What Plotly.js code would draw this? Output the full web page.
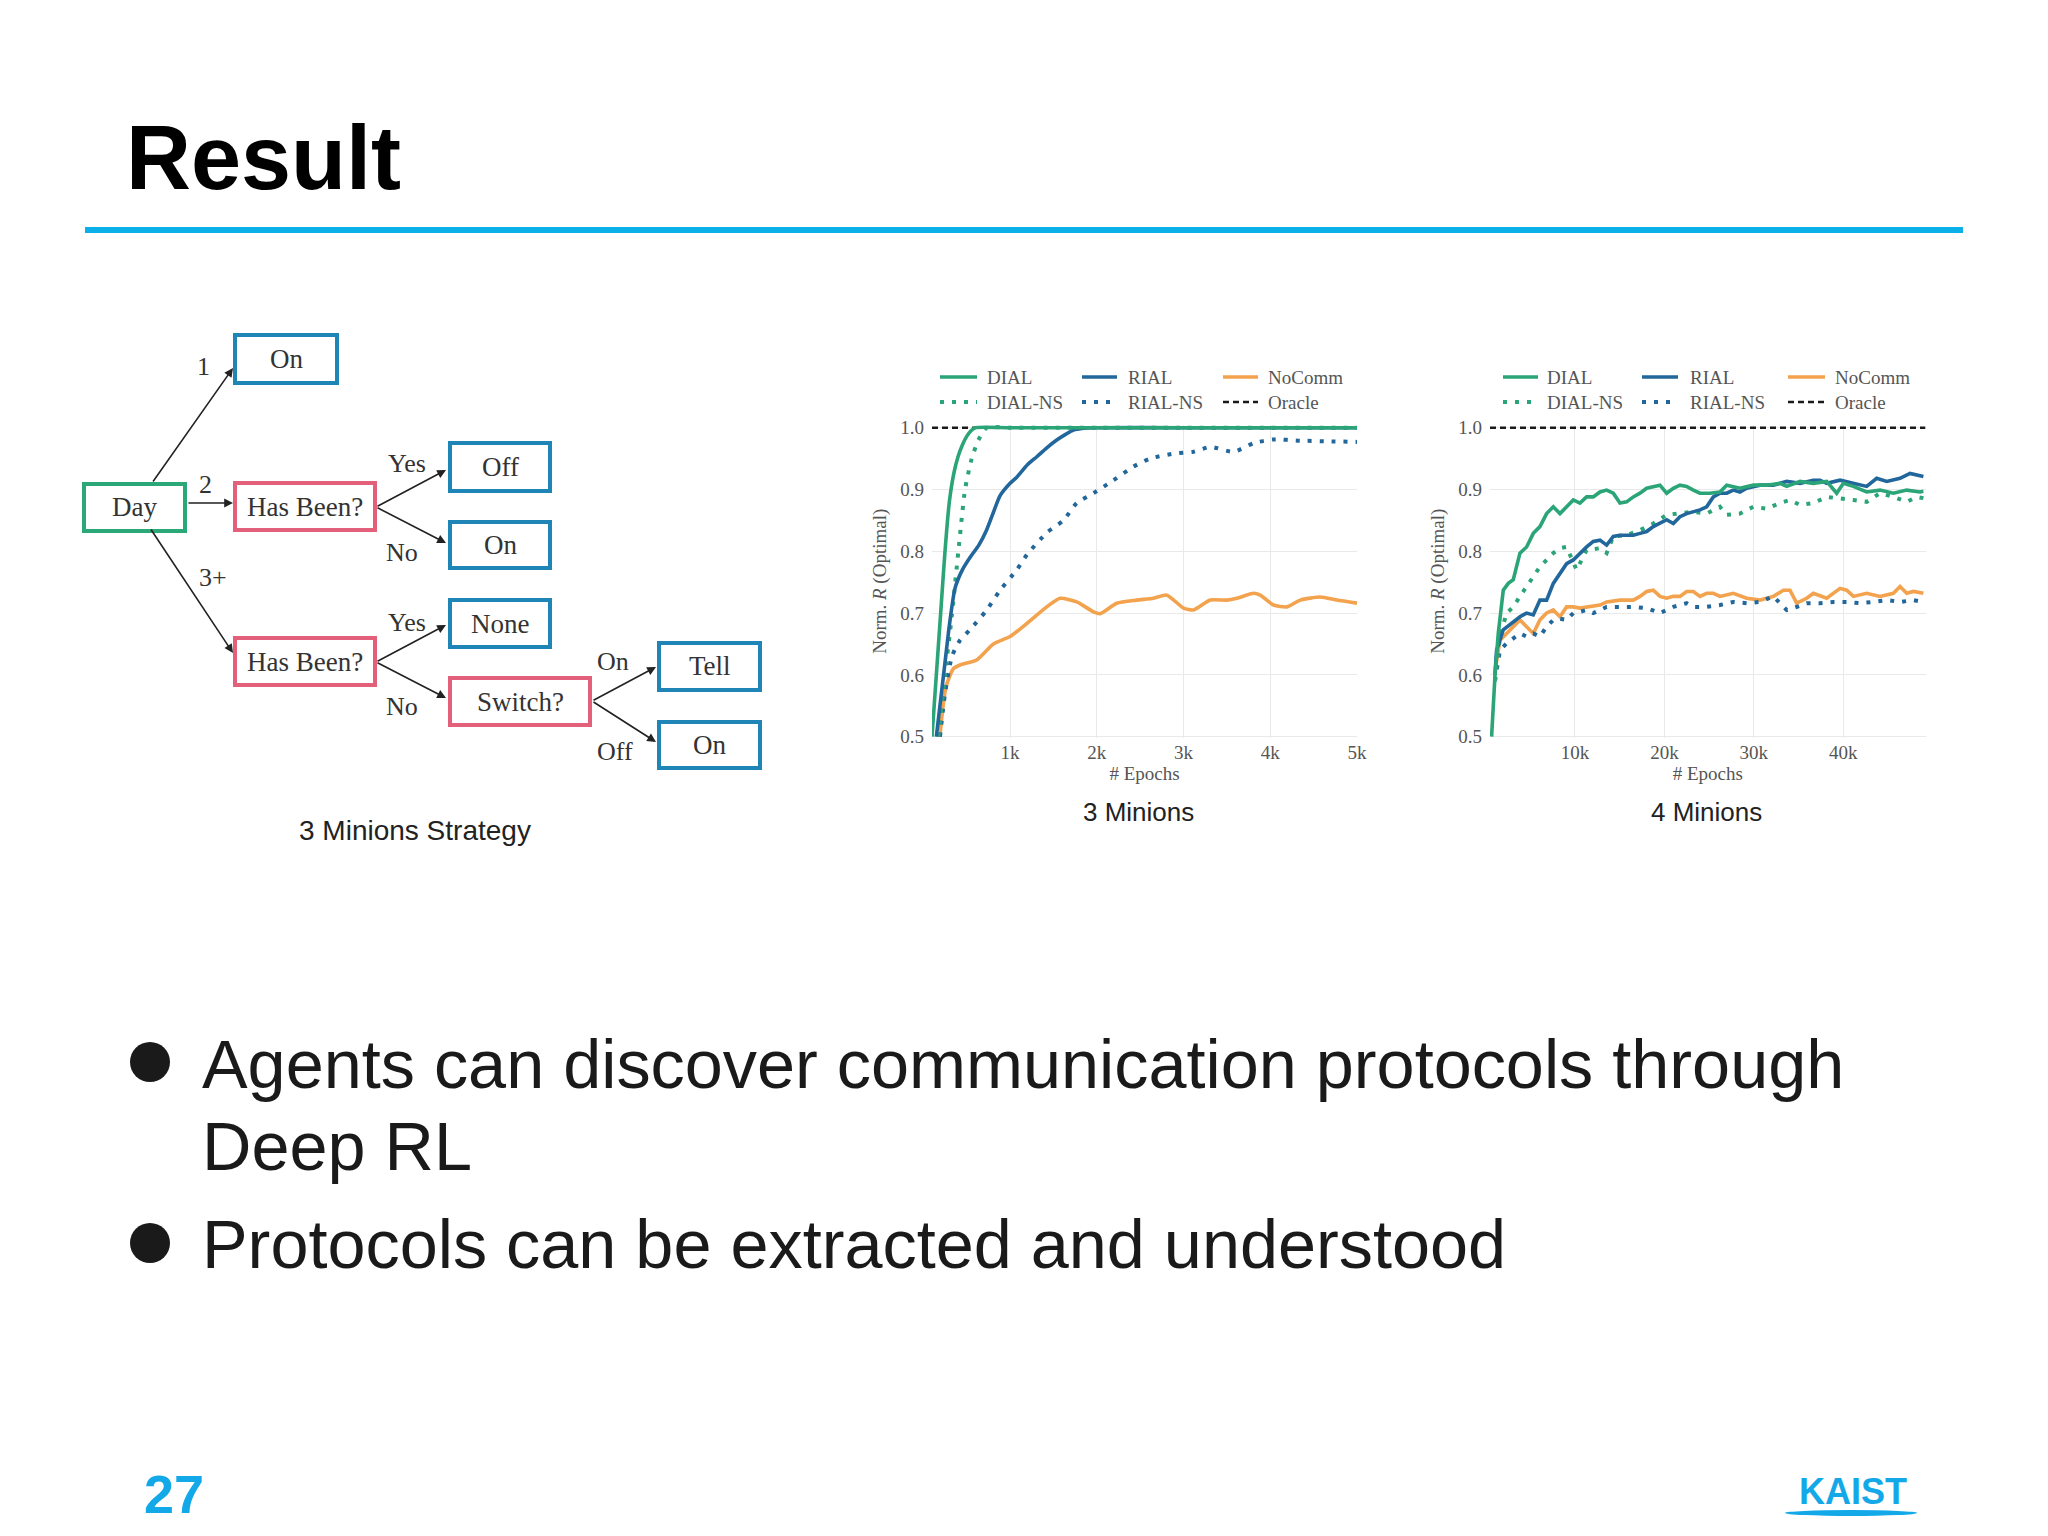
<!DOCTYPE html>
<html><head><meta charset="utf-8">
<script src="https://cdn.plot.ly/plotly-3.0.1.min.js"></script>
<style>html,body{margin:0;padding:0;background:#fff;}#chart{width:2048px;height:1536px;}</style>
</head><body><div id="chart"></div>
<script>
// ---------------- DATA: 3 Minions ----------------
const m3OracleX = [100, 5000];
const m3OracleY = [1.0, 1.0];
const m3DialX = [100,150,200,250,300,350,400,450,500,550,600,1000,2000,3000,4000,5000];
const m3DialY = [0.50,0.60,0.70,0.80,0.88,0.925,0.953,0.972,0.986,0.995,1.0,1.0,1.0,1.0,1.0,1.0];
const m3DialNsX = [173,250,327,404,481,558,635,731,1000,2000,3000,4000,5000];
const m3DialNsY = [0.50,0.60,0.694,0.80,0.90,0.95,0.98,1.0,1.0,1.0,1.0,1.0,1.0];
const m3RialX = [150,250,300,365,450,538,640,731,800,885,1000,1077,1200,1308,1420,1538,1650,1731,1850,1962,3000,4000,5000];
const m3RialY = [0.50,0.62,0.68,0.74,0.77,0.79,0.81,0.835,0.86,0.89,0.91,0.92,0.94,0.953,0.967,0.98,0.99,0.996,0.999,1.0,1.0,1.0,1.0];
const m3RialNsX = [192,250,330,423,538,731,885,1077,1192,1423,1615,1769,1962,2192,2423,2615,2885,3115,3308,3577,3808,4038,4346,4654,5000];
const m3RialNsY = [0.50,0.57,0.63,0.656,0.673,0.705,0.737,0.77,0.794,0.83,0.85,0.878,0.894,0.915,0.937,0.95,0.958,0.961,0.969,0.961,0.975,0.981,0.979,0.978,0.977];
const m3NoCommX = [190,260,346,423,615,808,1000,1192,1423,1577,1769,1962,2038,2231,2462,2654,2808,3000,3115,3308,3500,3615,3808,3885,4038,4192,4346,4577,4769,5000];
const m3NoCommY = [0.50,0.58,0.61,0.616,0.624,0.65,0.662,0.683,0.71,0.724,0.718,0.702,0.699,0.716,0.721,0.724,0.729,0.708,0.705,0.721,0.721,0.724,0.732,0.729,0.713,0.71,0.721,0.726,0.721,0.716];

// ---------------- DATA: 4 Minions ----------------
const m4OracleX = [500, 49200];
const m4OracleY = [1.0, 1.0];
const m4DialX = [679,1051,1424,1984,2543,3103,3848,4594,5340,6085,6831,7577,8322,9068,9814,10559,11305,12051,12796,13542,14288,15034,15779,16525,17271,18016,18762,19508,20254,20999,21745,22491,23236,23982,25101,26219,26965,27711,28456,29948,31439,32931,33676,35168,36659,38150,39269,40015,41133,42625,44116,45608,47099,48591,48964];
const m4DialY = [0.5,0.597,0.667,0.737,0.748,0.754,0.797,0.807,0.829,0.84,0.861,0.872,0.861,0.872,0.883,0.878,0.888,0.888,0.896,0.899,0.894,0.878,0.880,0.888,0.894,0.902,0.905,0.907,0.894,0.902,0.907,0.905,0.899,0.894,0.894,0.896,0.907,0.905,0.902,0.907,0.907,0.910,0.905,0.913,0.910,0.913,0.894,0.910,0.905,0.896,0.899,0.894,0.899,0.896,0.897];
const m4RialX = [1050,1238,1984,3103,3848,4594,5340,6085,6831,7577,8322,9068,9814,10559,11305,12051,12796,13542,14288,15034,16525,17271,18016,18762,19508,20254,20999,21745,22491,23236,23982,24727,25473,26219,26965,27711,28456,29202,29948,30693,32185,33676,35168,36659,37405,38150,39642,41133,42625,43743,44862,46353,47472,48964];
const m4RialY = [0.6,0.64,0.673,0.686,0.694,0.70,0.697,0.721,0.721,0.748,0.764,0.78,0.786,0.797,0.807,0.816,0.818,0.810,0.824,0.826,0.826,0.829,0.832,0.840,0.845,0.851,0.845,0.856,0.861,0.864,0.867,0.872,0.888,0.894,0.894,0.899,0.896,0.902,0.905,0.907,0.907,0.913,0.910,0.915,0.915,0.910,0.915,0.910,0.905,0.918,0.913,0.918,0.926,0.921];
const m4DialNsX = [1051,1611,2356,3103,3848,4594,5340,6085,6831,7577,8322,9068,10186,11305,12796,13542,14288,15779,17271,18762,20254,21745,23236,24727,26219,26965,28456,29948,31439,32931,34049,35168,36659,38150,39642,41133,42625,44116,45608,47099,48218,48964];
const m4DialNsY = [0.59,0.662,0.70,0.71,0.727,0.743,0.759,0.775,0.786,0.797,0.805,0.807,0.77,0.802,0.805,0.797,0.824,0.826,0.834,0.845,0.859,0.861,0.864,0.861,0.872,0.859,0.861,0.872,0.869,0.878,0.883,0.875,0.878,0.888,0.886,0.883,0.880,0.894,0.888,0.880,0.888,0.886];
const m4NoCommX = [1100,1611,2356,3103,3848,4594,5340,6085,6831,7577,8322,9068,9814,10559,11305,12796,13542,15034,16525,17271,18016,18762,19508,20254,20999,21745,22491,23236,23982,24727,25473,26219,27711,29202,30693,32185,33303,34049,34795,35913,36659,38150,39642,40388,41133,42625,44116,45608,46353,47099,47845,48964];
const m4NoCommY = [0.61,0.656,0.667,0.678,0.689,0.678,0.667,0.689,0.70,0.705,0.694,0.710,0.710,0.708,0.710,0.713,0.718,0.721,0.721,0.727,0.735,0.737,0.727,0.724,0.727,0.727,0.735,0.735,0.727,0.732,0.732,0.727,0.732,0.724,0.721,0.727,0.737,0.737,0.716,0.724,0.732,0.724,0.740,0.737,0.727,0.732,0.727,0.732,0.743,0.732,0.735,0.732];
const m4RialNsX = [1050,1611,2356,3103,3848,4594,5340,6085,6831,7577,8322,9068,9814,10559,11305,12051,12796,13542,15034,16525,18016,19508,20254,20999,22491,23236,24727,26219,27711,29202,30693,32185,32931,33676,34422,35913,37405,38896,40388,41879,43370,44862,46353,47845,48964];
const m4RialNsY = [0.59,0.640,0.651,0.659,0.667,0.662,0.667,0.662,0.678,0.689,0.691,0.689,0.70,0.702,0.705,0.70,0.705,0.710,0.710,0.710,0.708,0.70,0.705,0.710,0.716,0.710,0.710,0.713,0.718,0.716,0.718,0.727,0.716,0.705,0.708,0.716,0.716,0.718,0.718,0.716,0.718,0.721,0.718,0.721,0.718];

// ---------------- LABELS ----------------
const slideTitle = 'Result';
const bullet1a = 'Agents can discover communication protocols through';
const bullet1b = 'Deep RL';
const bullet2 = 'Protocols can be extracted and understood';
const seriesNames = ['DIAL','RIAL','NoComm','DIAL-NS','RIAL-NS','Oracle'];
const m3TickVals = [1000,2000,3000,4000,5000];
const m3TickText = ['1k','2k','3k','4k','5k'];
const m4TickVals = [10000,20000,30000,40000];
const m4TickText = ['10k','20k','30k','40k'];
const yTickVals = [0.5,0.6,0.7,0.8,0.9,1.0];

// ---------------- HELPERS ----------------
const W = 2048, H = 1536;
const PX = v => v / W, PY = v => 1 - v / H;
const SERIF = 'Liberation Serif, Times New Roman, serif';
const SANS = 'Liberation Sans, Arial, sans-serif';
const C = {dial:'#2ba577', rial:'#22679b', nocomm:'#f3a24d', oracle:'#1a1a1a'};
const DOT = '4px,8px', DASH = '6px,4px';
const widthFor = d => d === 'solid' ? 3.6 : (d === DASH ? 2.4 : 4);

function tr(x, y, color, dash, xa, ya, name, shape) {
  return {type:'scatter', mode:'lines', x:x, y:y, xaxis:xa, yaxis:ya, name:name,
    line:{color:color, width: widthFor(dash), dash:dash, shape:shape||'linear', smoothing:0.6},
    showlegend:false, hoverinfo:'skip'};
}

const data = [
  tr(m3OracleX, m3OracleY, C.oracle, DASH, 'x', 'y', 'Oracle'),
  tr(m3NoCommX, m3NoCommY, C.nocomm, 'solid', 'x', 'y', 'NoComm', 'spline'),
  tr(m3RialNsX, m3RialNsY, C.rial, DOT, 'x', 'y', 'RIAL-NS', 'spline'),
  tr(m3DialNsX, m3DialNsY, C.dial, DOT, 'x', 'y', 'DIAL-NS', 'spline'),
  tr(m3RialX, m3RialY, C.rial, 'solid', 'x', 'y', 'RIAL', 'spline'),
  tr(m3DialX, m3DialY, C.dial, 'solid', 'x', 'y', 'DIAL', 'spline'),
  tr(m4OracleX, m4OracleY, C.oracle, DASH, 'x2', 'y2', 'Oracle'),
  tr(m4NoCommX, m4NoCommY, C.nocomm, 'solid', 'x2', 'y2', 'NoComm'),
  tr(m4RialNsX, m4RialNsY, C.rial, DOT, 'x2', 'y2', 'RIAL-NS'),
  tr(m4DialNsX, m4DialNsY, C.dial, DOT, 'x2', 'y2', 'DIAL-NS'),
  tr(m4RialX, m4RialY, C.rial, 'solid', 'x2', 'y2', 'RIAL'),
  tr(m4DialX, m4DialY, C.dial, 'solid', 'x2', 'y2', 'DIAL')
];

const tickFont = {family:SERIF, size:19, color:'#555'};
function xAxis(dom, range, tv, tt, anchor) {
  return {domain:dom, range:range, anchor:anchor, tickvals:tv, ticktext:tt, showgrid:true, gridcolor:'#e9e9e9', gridwidth:1,
    zeroline:false, showline:false, ticks:'', tickfont:tickFont, ticklabelstandoff:1,
    title:{text:'# Epochs', font:tickFont, standoff:0}, fixedrange:true};
}
function yAxis(dom, anchor) {
  return {domain:dom, range:[0.498,1.005], anchor:anchor, tickvals:yTickVals, tickformat:'.1f', showgrid:true, gridcolor:'#e9e9e9',
    zeroline:false, showline:false, ticks:'', tickfont:tickFont, ticklabelstandoff:7,
    title:{text:'Norm. <i>R</i> (Optimal)', font:{family:SERIF, size:19, color:'#555'}, standoff:8}, fixedrange:true};
}

const shapes = [];
const ann = [];

// Title + rule
ann.push({text:slideTitle, x:PX(124), y:PY(158), xref:'paper', yref:'paper', xanchor:'left', yanchor:'middle', showarrow:false,
  font:{family:SANS, size:90, color:'#000', weight:'bold'}});
shapes.push({type:'rect', xref:'paper', yref:'paper', x0:PX(85), x1:PX(1963), y0:PY(233), y1:PY(227), fillcolor:'#0bb0e8', line:{width:0}});

// Bullets
function bulletDot(cy) {
  shapes.push({type:'circle', xref:'paper', yref:'paper', x0:PX(130), x1:PX(170), y0:PY(cy+20), y1:PY(cy-20), fillcolor:'#1a1a1a', line:{width:0}});
}
bulletDot(1062); bulletDot(1243);
[[bullet1a,1064],[bullet1b,1146],[bullet2,1244]].forEach(([t,y]) => {
  ann.push({text:t, x:PX(200), y:PY(y), xref:'paper', yref:'paper', xanchor:'left', yanchor:'middle', showarrow:false,
    font:{family:SANS, size:68.4, color:'#1a1a1a'}});
});

// Footer
ann.push({text:'27', x:PX(142), y:PY(1494), xref:'paper', yref:'paper', xanchor:'left', yanchor:'middle', showarrow:false,
  font:{family:SANS, size:54, color:'#13a9e8', weight:'bold'}});
ann.push({text:'KAIST', x:PX(1853), y:PY(1491), xref:'paper', yref:'paper', xanchor:'center', yanchor:'middle', showarrow:false,
  font:{family:'Liberation Sans Narrow, Arial Narrow, Liberation Sans, Arial', size:36, color:'#13a9e8', weight:'bold'}});
shapes.push({type:'circle', xref:'paper', yref:'paper', x0:PX(1785), x1:PX(1917), y0:PY(1516), y1:PY(1510), fillcolor:'#13a9e8', line:{width:0}});

// Tree diagram boxes
const BLUE = '#1e85b6', GREEN = '#2ba878', RED = '#e2607a';
const boxes = [
  ['On', 235,337,335,383, BLUE],
  ['Day', 84,185,484,531, GREEN],
  ['Has Been?', 235,375,483,530, RED],
  ['Off', 450,550,443,491, BLUE],
  ['On', 450,550,522,568, BLUE],
  ['Has Been?', 235,375,638,685, RED],
  ['None', 450,550,600,647, BLUE],
  ['Switch?', 450,590,678,725, RED],
  ['Tell', 659,760,643,690, BLUE],
  ['On', 659,760,722,768, BLUE]
];
boxes.forEach(([t,l,r,tp,b,c]) => {
  shapes.push({type:'rect', xref:'paper', yref:'paper', x0:PX(l), x1:PX(r), y0:PY(b), y1:PY(tp), line:{color:c, width:4}, fillcolor:'rgba(0,0,0,0)'});
  ann.push({text:t, x:PX((l+r)/2), y:PY((tp+b)/2), xref:'paper', yref:'paper', xanchor:'center', yanchor:'middle', showarrow:false,
    font:{family:SERIF, size:27, color:'#333'}});
});
const edgeLabels = [['1',203,367],['2',205,484],['3+',213,578],['Yes',407,463],['No',402,552],['Yes',407,622],['No',402,707],['On',613,662],['Off',615,752]];
edgeLabels.forEach(([t,x,y]) => {
  ann.push({text:t, x:PX(x), y:PY(y), xref:'paper', yref:'paper', xanchor:'center', yanchor:'middle', showarrow:false,
    font:{family:SERIF, size:26, color:'#333'}});
});
const arrows = [[152,483,233,368],[187,503,233,503],[150,528,233,653],[376,507,446,470],[376,507,446,543],[376,662,446,625],[376,662,446,698],[592,701,656,667],[592,701,656,742]];
arrows.forEach(([tx,ty,hx,hy]) => {
  ann.push({text:'', x:PX(hx), y:PY(hy), xref:'paper', yref:'paper', ax:tx-hx, ay:ty-hy, axref:'pixel', ayref:'pixel',
    showarrow:true, arrowhead:2, arrowsize:1.1, arrowwidth:1.6, arrowcolor:'#222', standoff:0, startstandoff:0});
});
ann.push({text:'3 Minions Strategy', x:PX(415), y:PY(830), xref:'paper', yref:'paper', xanchor:'center', yanchor:'middle', showarrow:false,
  font:{family:SANS, size:28, color:'#222'}});
ann.push({text:'3 Minions', x:PX(1138), y:PY(812), xref:'paper', yref:'paper', xanchor:'center', yanchor:'middle', showarrow:false,
  font:{family:SANS, size:26, color:'#222'}});
ann.push({text:'4 Minions', x:PX(1706), y:PY(812), xref:'paper', yref:'paper', xanchor:'center', yanchor:'middle', showarrow:false,
  font:{family:SANS, size:26, color:'#222'}});

// Manual legends
function legend(cols) {
  const styles = [[C.dial,'solid'],[C.rial,'solid'],[C.nocomm,'solid'],[C.dial,DOT],[C.rial,DOT],[C.oracle,DASH]];
  seriesNames.forEach((nm, i) => {
    const row = Math.floor(i/3), col = i % 3;
    const y = row === 0 ? 377 : 402;
    const [l0, l1, lx] = cols[col];
    const [c, d] = styles[i];
    shapes.push({type:'line', xref:'paper', yref:'paper', x0:PX(l0), x1:PX(l1), y0:PY(y), y1:PY(y),
      line:{color:c, width: widthFor(d), dash:d}});
    ann.push({text:nm, x:PX(lx), y:PY(y), xref:'paper', yref:'paper', xanchor:'left', yanchor:'middle', showarrow:false,
      font:{family:SERIF, size:19, color:'#555'}});
  });
}
legend([[940,977,985],[1082,1117,1126],[1223,1258,1266]]);
legend([[1503,1538,1545],[1642,1678,1688],[1788,1825,1833]]);

const layout = {
  width:W, height:H, margin:{l:0,r:0,t:0,b:0}, paper_bgcolor:'#ffffff', plot_bgcolor:'#ffffff', showlegend:false,
  xaxis: xAxis([PX(932), PX(1357)], [100,5000], m3TickVals, m3TickText, 'y'),
  yaxis: yAxis([PY(737.9), PY(424.6)], 'x'),
  xaxis2: xAxis([PX(1490), PX(1925.5)], [500,49200], m4TickVals, m4TickText, 'y2'),
  yaxis2: yAxis([PY(737.9), PY(424.6)], 'x2'),
  shapes: shapes, annotations: ann
};
Plotly.newPlot('chart', data, layout, {displayModeBar:false, staticPlot:true});
</script></body></html>
